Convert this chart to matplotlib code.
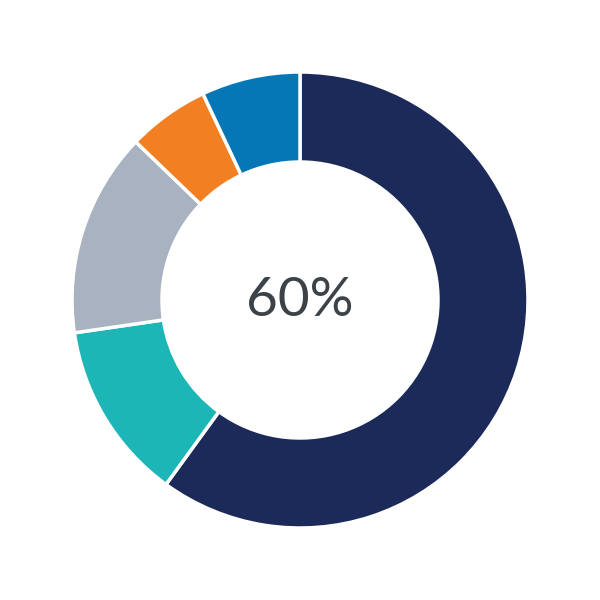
import matplotlib
matplotlib.use("Agg")
import matplotlib.pyplot as plt

labels = ["Navy", "Teal", "Gray", "Orange", "Blue"]
values = [60, 12.7, 14.5, 5.8, 7.0]
colors = ["#1c2a59", "#1db6b7", "#a8b2c0", "#f27f22", "#0577b7"]
center_label = "60%"

fig = plt.figure(figsize=(6, 6), dpi=100)
ax = fig.add_axes([0, 0, 1, 1])
ax.pie(values, colors=colors, startangle=90, counterclock=False,
       radius=1.0, wedgeprops=dict(width=1.0 - 138 / 228, edgecolor="white", linewidth=2.5))
ax.text(0, 0, center_label, ha="center", va="center", fontsize=39.5,
        color="#3c4348", family=["Lato", "DejaVu Sans"])
lim = 300 / 228
ax.set_xlim(-lim, lim)
ax.set_ylim(-lim, lim)
ax.set_aspect("equal")
ax.axis("off")
fig.savefig("out.png", dpi=100, facecolor="white")
